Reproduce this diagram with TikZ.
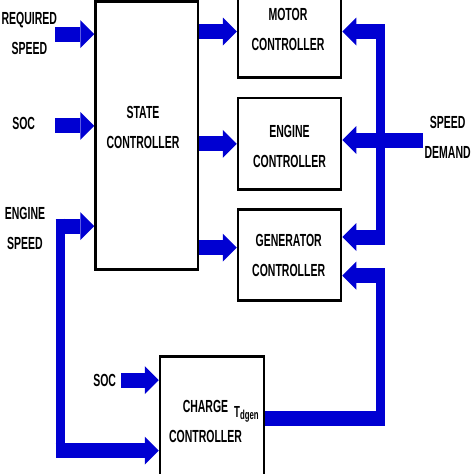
\documentclass[tikz,border=0pt]{standalone}
\usepackage{fontspec}
\setmainfont{Liberation Sans}[FakeStretch=0.6]
\usetikzlibrary{arrows.meta}
\definecolor{flowblue}{RGB}{0,0,210}
\tikzset{
    every node/.style={inner sep=0pt, font=\bfseries\fontsize{17.5}{30}\selectfont}
}
\tikzset{
    block/.style={draw, rectangle, line width=2.5pt},
    lbl/.style={align=center}
}
\tikzset{
    fat/.style={draw=flowblue, line width=15pt,
    	-{Triangle[length=14pt,width=28pt,line width=0pt]}},
    fatline/.style={draw=flowblue, line width=15pt},
    bar/.style={draw=flowblue, line width=9pt}
}

\begin{document}
\begin{tikzpicture}[x=1pt,y=-1pt]
  \useasboundingbox (0,0) rectangle (474,474);

  \node[block, minimum width=102.5pt, minimum height=268pt] (state) at (146.75,135.5) {};
  \node[block, minimum width=103pt, minimum height=92pt] (motor) at (289.5,31.5) {};
  \node[block, minimum width=103pt, minimum height=91.7pt] (engine) at (289.5,143.8) {};
  \node[block, minimum width=103pt, minimum height=91pt] (gen) at (289.5,255.2) {};
  \node[block, minimum width=104pt, minimum height=134pt] (charge) at (212,423.5) {};

  \node[lbl] (stateT) at (143,127.5) {STATE\\CONTROLLER};
  \node[lbl] (motorT) at (288,29.5) {MOTOR\\CONTROLLER};
  \node[lbl] (engineT) at (289.5,146.8) {ENGINE\\CONTROLLER};
  \node[lbl] (genT) at (288.7,255.5) {GENERATOR\\CONTROLLER};
  \node[lbl] (chargeT) at (205.5,421) {CHARGE\\CONTROLLER};
  \node[lbl] (reqT) at (29.3,33.2) {REQUIRED\\SPEED};
  \node[lbl] (socT) at (23.7,123.3) {SOC};
  \node[lbl] (engSpT) at (25,228.3) {ENGINE\\SPEED};
  \node[lbl] (demandT) at (447.7,137.3) {SPEED\\DEMAND};
  \node[lbl] (soc2T) at (104.7,380) {SOC};
  \node[anchor=base west] (tdgenT) at (234,417)
  	{\fontsize{16}{16}\selectfont T\raisebox{-2pt}{\fontsize{13}{13}\selectfont dgen}};

  % inputs of the state controller
  \coordinate (reqIn) at (55,34.2);
  \coordinate (socIn) at (55,125.8);
  \draw[fat] (reqIn) -- (reqIn -| state.west);
  \draw[fat] (socIn) -- (socIn -| state.west);

  % engine speed loop
  \coordinate (engTop) at (60,218.5);
  \coordinate (engBot) at (60,458);
  \coordinate (engIn) at (55.5,226);
  \coordinate (chgIn) at (55.5,450.5);
  \draw[bar] (engTop) -- (engBot);
  \draw[fat] (engIn) -- (engIn -| state.west);
  \draw[fat] (chgIn) -- (chgIn -| charge.west);
  \coordinate (soc2In) at (121,380);
  \draw[fat] (soc2In) -- (soc2In -| charge.west);

  % outputs of the state controller
  \draw[fat] (state.east |- motor.west) -- (motor.west);
  \draw[fat] (state.east |- engine.west) -- (engine.west);
  \draw[fat] (state.east |- 0,247.5) -- (gen.west |- 0,247.5);

  % speed demand
  \coordinate (sdIn) at (423,140);
  \coordinate (sdTop) at (380,24);
  \coordinate (sdBot) at (380,244.5);
  \coordinate (sdMot) at (384.5,31.5);
  \coordinate (sdGen) at (384.5,237);
  \draw[fat] (sdIn) -- (sdIn -| engine.east);
  \draw[bar] (sdTop) -- (sdBot);
  \draw[fat] (sdMot) -- (motor.east);
  \draw[fat] (sdGen) -- (sdGen -| gen.east);

  % Tdgen
  \coordinate (tdTurn) at (384.5,418);
  \coordinate (tdBot) at (380,425.5);
  \coordinate (tdTop) at (380,268);
  \coordinate (tdGen) at (384.5,275.5);
  \draw[fatline] (charge.east |- tdTurn) -- (tdTurn);
  \draw[bar] (tdBot) -- (tdTop);
  \draw[fat] (tdGen) -- (tdGen -| gen.east);
\end{tikzpicture}
\end{document}
